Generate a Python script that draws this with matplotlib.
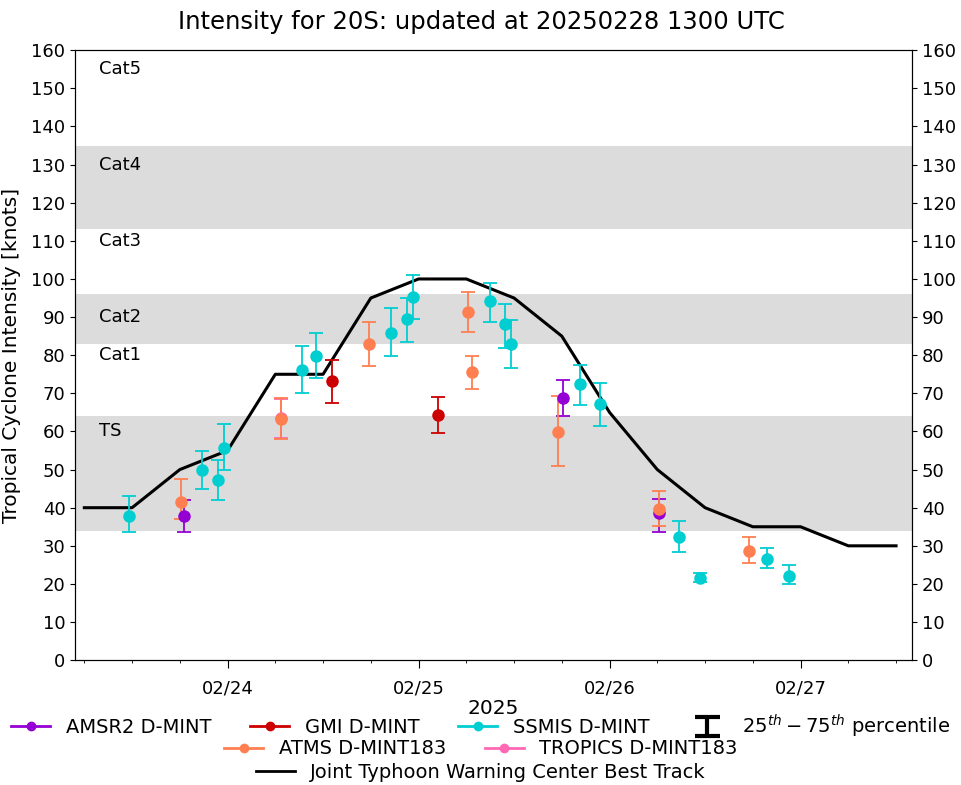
import matplotlib
matplotlib.use("Agg")
import matplotlib.pyplot as plt
import matplotlib.dates as mdates
from matplotlib.lines import Line2D
import numpy as np
from datetime import datetime

# --- data (knots), times as "MMDD HH:MM" of Feb 2025 ---
bt_time = ["0223 06:00", "0223 12:00", "0223 18:00", "0224 00:00", "0224 06:00", "0224 12:00",
           "0224 18:00", "0225 00:00", "0225 06:00", "0225 12:00", "0225 18:00", "0226 00:00",
           "0226 06:00", "0226 12:00", "0226 18:00", "0227 00:00", "0227 06:00", "0227 12:00"]
bt_vmax = [40, 40, 50, 55, 75, 75, 95, 100, 100, 95, 85, 65, 50, 40, 35, 35, 30, 30]

amsr2_time = ["0223 18:30", "0225 18:10", "0226 06:15"]
amsr2_val = [37.8, 68.7, 38.6]
amsr2_p25 = [33.5, 64.0, 33.7]
amsr2_p75 = [42.0, 73.5, 42.4]

gmi_time = ["0224 13:10", "0225 02:30"]
gmi_val = [73.2, 64.3]
gmi_p25 = [67.5, 59.5]
gmi_p75 = [78.7, 69.0]

ssmis_time = ["0223 11:35", "0223 20:45", "0223 22:45", "0223 23:30", "0224 09:20", "0224 11:10",
              "0224 20:30", "0224 22:30", "0224 23:15", "0225 08:55", "0225 10:55", "0225 11:40",
              "0225 20:15", "0225 22:50", "0226 08:40", "0226 11:20", "0226 19:50", "0226 22:35"]
ssmis_val = [37.8, 49.8, 47.2, 55.6, 76.0, 79.7, 85.8, 89.4, 95.2, 94.2, 88.1, 82.9,
             72.4, 67.1, 32.3, 21.5, 26.5, 22.0]
ssmis_p25 = [33.5, 45.0, 42.0, 50.0, 70.0, 74.0, 79.8, 83.5, 89.5, 88.7, 82.0, 76.6,
             66.9, 61.5, 28.3, 20.5, 24.3, 20.0]
ssmis_p75 = [43.0, 55.0, 52.5, 62.0, 82.5, 85.8, 92.3, 95.0, 101.0, 99.0, 93.5, 89.2,
             77.5, 72.7, 36.5, 23.0, 29.5, 25.0]

atms_time = ["0223 18:10", "0224 06:40", "0224 17:50", "0225 06:15", "0225 06:45", "0225 17:30",
             "0226 06:15", "0226 17:35"]
atms_val = [41.4, 63.2, 82.9, 91.3, 75.5, 59.8, 39.6, 28.6]
atms_p25 = [37.0, 58.0, 77.2, 86.0, 71.2, 51.0, 35.3, 25.4]
atms_p75 = [47.4, 68.7, 88.7, 96.5, 79.7, 69.3, 44.3, 32.2]

tropics_time = ["0224 06:40"]
tropics_val = [63.5]
tropics_p25 = [58.3]
tropics_p75 = [68.5]

cat_bands = [(34, 64), (83, 96), (113, 135)]
cat_labels = ["TS", "Cat1", "Cat2", "Cat3", "Cat4", "Cat5"]
cat_label_y = [60, 80, 90, 110, 130, 155]


def to_dt(lst):
    return [datetime.strptime("2025" + s, "%Y%m%d %H:%M") for s in lst]


fig = plt.figure(figsize=(9.62, 7.85), dpi=100)
ax = fig.add_axes([0.078, 0.159, 0.870, 0.777])

# category shading
for lo, hi in cat_bands:
    ax.axhspan(lo, hi, color="#dcdcdc", zorder=0, lw=0)
for lab, yy in zip(cat_labels, cat_label_y):
    ax.text(datetime(2025, 2, 23, 7, 50), yy, lab, fontsize=13, va="center", ha="left")

ax.plot(to_dt(bt_time), bt_vmax, color="black", lw=2.2, zorder=3)

series = [
    (amsr2_time, amsr2_val, amsr2_p25, amsr2_p75, "#9400d3", "AMSR2 D-MINT"),
    (gmi_time, gmi_val, gmi_p25, gmi_p75, "#cc0000", "GMI D-MINT"),
    (ssmis_time, ssmis_val, ssmis_p25, ssmis_p75, "#00ced1", "SSMIS D-MINT"),
    (tropics_time, tropics_val, tropics_p25, tropics_p75, "#ff69b4", "TROPICS D-MINT183"),
    (atms_time, atms_val, atms_p25, atms_p75, "#ff7f50", "ATMS D-MINT183"),
]
handles = {}
for t, v, p25, p75, c, lab in series:
    v = np.array(v)
    yerr = [v - np.array(p25), np.array(p75) - v]
    ax.errorbar(to_dt(t), v, yerr=yerr, fmt="o", color=c, ms=8, capsize=5,
                elinewidth=1.3, capthick=1.3, zorder=4)
    handles[lab] = Line2D([], [], color=c, marker="o", ms=6, lw=2)

ax.set_xlim(datetime(2025, 2, 23, 4, 50), datetime(2025, 2, 27, 14, 0))
ax.set_ylim(0, 160)
ax.set_yticks(np.arange(0, 161, 10))
ax.xaxis.set_major_locator(mdates.DayLocator())
ax.xaxis.set_minor_locator(mdates.HourLocator(byhour=[0, 6, 12, 18]))
ax.xaxis.set_major_formatter(mdates.DateFormatter("%m/%d"))
ax.tick_params(labelsize=13)
ax.tick_params(axis="x", which="major", length=6, pad=8)
ax.set_xlabel("2025", fontsize=14.5, labelpad=1)
ax.set_ylabel("Tropical Cyclone Intensity [knots]", fontsize=14.5, labelpad=7)
fig.suptitle("Intensity for 20S: updated at 20250228 1300 UTC", fontsize=17.5,
             x=0.5, y=0.972, va="center")

ax2 = ax.twinx()
ax2.set_ylim(0, 160)
ax2.set_yticks(np.arange(0, 161, 10))
ax2.tick_params(labelsize=13)

# legends
pct = ax.errorbar([np.nan], [np.nan], yerr=[1], fmt="none", color="black",
                  elinewidth=3, capsize=9, capthick=3)
fig.legend([handles["AMSR2 D-MINT"], handles["GMI D-MINT"], handles["SSMIS D-MINT"], pct],
           ["AMSR2 D-MINT", "GMI D-MINT", "SSMIS D-MINT", r"$25^{th} - 75^{th}$ percentile"],
           loc="center", bbox_to_anchor=(0.5, 0.075), ncol=4, frameon=False,
           fontsize=14, borderpad=0)
fig.legend([handles["ATMS D-MINT183"], handles["TROPICS D-MINT183"]],
           ["ATMS D-MINT183", "TROPICS D-MINT183"],
           loc="center", bbox_to_anchor=(0.5, 0.046), ncol=2, frameon=False,
           fontsize=14, borderpad=0)
fig.legend([Line2D([], [], color="black", lw=2)],
           ["Joint Typhoon Warning Center Best Track"],
           loc="center", bbox_to_anchor=(0.5, 0.016), ncol=1, frameon=False,
           fontsize=14, borderpad=0)

fig.savefig("out.png", dpi=100)
